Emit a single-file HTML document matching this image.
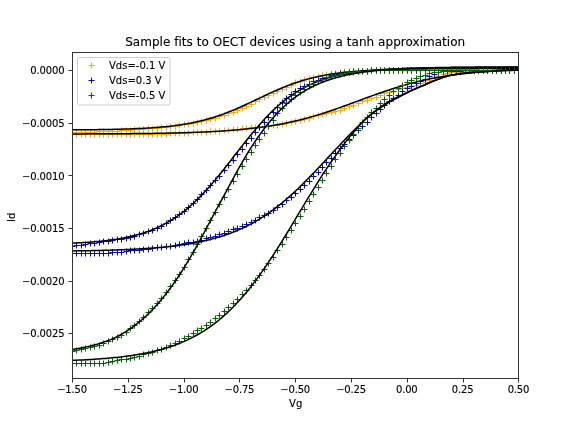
<!DOCTYPE html>
<html><head><meta charset="utf-8"><title>Sample fits to OECT devices</title>
<style>html,body{margin:0;padding:0;background:#fff}svg{display:block}text{font-family:'DejaVu Sans','Liberation Sans',sans-serif;fill:#000;stroke:#000;stroke-width:0.12px}</style></head><body>
<svg width="576" height="432" viewBox="0 0 576 432">
<rect width="576" height="432" fill="#fff"/>
<clipPath id="c"><rect x="72" y="51.84" width="446.4" height="326.16"/></clipPath>
<g clip-path="url(#c)" fill="none">
<path d="M69.5 132.5h6m-3-3v6M73.5 132.5h6m-3-3v6M78.5 132.5h6m-3-3v6M82.5 132.5h6m-3-3v6M87.5 132.5h6m-3-3v6M91.5 132.5h6m-3-3v6M96.5 131.5h6m-3-3v6M100.5 131.5h6m-3-3v6M105.5 131.5h6m-3-3v6M109.5 131.5h6m-3-3v6M114.5 131.5h6m-3-3v6M118.5 130.5h6m-3-3v6M123.5 130.5h6m-3-3v6M127.5 130.5h6m-3-3v6M131.5 129.5h6m-3-3v6M136.5 129.5h6m-3-3v6M140.5 129.5h6m-3-3v6M145.5 128.5h6m-3-3v6M149.5 128.5h6m-3-3v6M154.5 128.5h6m-3-3v6M158.5 127.5h6m-3-3v6M163.5 127.5h6m-3-3v6M167.5 126.5h6m-3-3v6M172.5 126.5h6m-3-3v6M176.5 125.5h6m-3-3v6M181.5 124.5h6m-3-3v6M185.5 124.5h6m-3-3v6M190.5 123.5h6m-3-3v6M194.5 122.5h6m-3-3v6M198.5 121.5h6m-3-3v6M203.5 120.5h6m-3-3v6M207.5 119.5h6m-3-3v6M212.5 118.5h6m-3-3v6M216.5 116.5h6m-3-3v6M221.5 115.5h6m-3-3v6M225.5 113.5h6m-3-3v6M230.5 112.5h6m-3-3v6M234.5 110.5h6m-3-3v6M239.5 108.5h6m-3-3v6M243.5 106.5h6m-3-3v6M248.5 104.5h6m-3-3v6M252.5 101.5h6m-3-3v6M256.5 99.5h6m-3-3v6M261.5 97.5h6m-3-3v6M265.5 95.5h6m-3-3v6M270.5 93.5h6m-3-3v6M274.5 91.5h6m-3-3v6M279.5 89.5h6m-3-3v6M283.5 87.5h6m-3-3v6M288.5 85.5h6m-3-3v6M292.5 82.5h6m-3-3v6M297.5 81.5h6m-3-3v6M301.5 79.5h6m-3-3v6M306.5 78.5h6m-3-3v6M310.5 77.5h6m-3-3v6M315.5 76.5h6m-3-3v6M319.5 75.5h6m-3-3v6M323.5 74.5h6m-3-3v6M328.5 73.5h6m-3-3v6M332.5 73.5h6m-3-3v6M337.5 72.5h6m-3-3v6M341.5 71.5h6m-3-3v6M346.5 71.5h6m-3-3v6M350.5 71.5h6m-3-3v6M355.5 71.5h6m-3-3v6M359.5 71.5h6m-3-3v6M364.5 71.5h6m-3-3v6M368.5 70.5h6m-3-3v6M373.5 70.5h6m-3-3v6M377.5 70.5h6m-3-3v6M381.5 70.5h6m-3-3v6M386.5 70.5h6m-3-3v6M390.5 70.5h6m-3-3v6M395.5 70.5h6m-3-3v6M399.5 70.5h6m-3-3v6M404.5 70.5h6m-3-3v6M408.5 70.5h6m-3-3v6M413.5 70.5h6m-3-3v6M417.5 70.5h6m-3-3v6M422.5 70.5h6m-3-3v6M426.5 70.5h6m-3-3v6M431.5 70.5h6m-3-3v6M435.5 70.5h6m-3-3v6M440.5 70.5h6m-3-3v6M444.5 70.5h6m-3-3v6M448.5 70.5h6m-3-3v6M453.5 70.5h6m-3-3v6M457.5 70.5h6m-3-3v6M462.5 70.5h6m-3-3v6M466.5 70.5h6m-3-3v6M471.5 70.5h6m-3-3v6M475.5 70.5h6m-3-3v6M480.5 70.5h6m-3-3v6M484.5 70.5h6m-3-3v6M489.5 70.5h6m-3-3v6M493.5 70.5h6m-3-3v6M498.5 70.5h6m-3-3v6M502.5 70.5h6m-3-3v6M506.5 70.5h6m-3-3v6M511.5 70.5h6m-3-3v6M515.5 70.5h6m-3-3v6" stroke="#ffa500" stroke-width="1"/>
<path d="M72 129.86L74.23 129.85L76.46 129.83L78.7 129.82L80.93 129.8L83.16 129.78L85.39 129.76L87.62 129.74L89.86 129.72L92.09 129.69L94.32 129.67L96.55 129.64L98.78 129.61L101.02 129.58L103.25 129.54L105.48 129.51L107.71 129.47L109.94 129.42L112.18 129.38L114.41 129.33L116.64 129.28L118.87 129.22L121.1 129.16L123.34 129.1L125.57 129.03L127.8 128.96L130.03 128.88L132.26 128.8L134.5 128.71L136.73 128.62L138.96 128.52L141.19 128.41L143.42 128.3L145.66 128.17L147.89 128.04L150.12 127.9L152.35 127.75L154.58 127.6L156.82 127.43L159.05 127.25L161.28 127.06L163.51 126.85L165.74 126.63L167.98 126.4L170.21 126.16L172.44 125.9L174.67 125.62L176.9 125.33L179.14 125.02L181.37 124.69L183.6 124.34L185.83 123.97L188.06 123.58L190.3 123.16L192.53 122.73L194.76 122.27L196.99 121.79L199.22 121.28L201.46 120.75L203.69 120.19L205.92 119.6L208.15 118.98L210.38 118.34L212.62 117.67L214.85 116.97L217.08 116.24L219.31 115.49L221.54 114.71L223.78 113.89L226.01 113.06L228.24 112.19L230.47 111.3L232.7 110.39L234.94 109.45L237.17 108.49L239.4 107.51L241.63 106.52L243.86 105.5L246.1 104.48L248.33 103.44L250.56 102.39L252.79 101.33L255.02 100.27L257.26 99.2L259.49 98.14L261.72 97.08L263.95 96.03L266.18 94.98L268.42 93.94L270.65 92.92L272.88 91.91L275.11 90.91L277.34 89.94L279.58 88.98L281.81 88.05L284.04 87.14L286.27 86.26L288.5 85.4L290.74 84.56L292.97 83.76L295.2 82.98L297.43 82.23L299.66 81.51L301.9 80.82L304.13 80.15L306.36 79.51L308.59 78.9L310.82 78.32L313.06 77.77L315.29 77.24L317.52 76.74L319.75 76.26L321.98 75.8L324.22 75.37L326.45 74.97L328.68 74.58L330.91 74.21L333.14 73.87L335.38 73.54L337.61 73.23L339.84 72.94L342.07 72.67L344.3 72.41L346.54 72.17L348.77 71.94L351 71.73L353.23 71.53L355.46 71.34L357.7 71.16L359.93 70.99L362.16 70.84L364.39 70.69L366.62 70.55L368.86 70.42L371.09 70.3L373.32 70.19L375.55 70.08L377.78 69.98L380.02 69.89L382.25 69.8L384.48 69.72L386.71 69.65L388.94 69.57L391.18 69.51L393.41 69.45L395.64 69.39L397.87 69.33L400.1 69.28L402.34 69.23L404.57 69.19L406.8 69.15L409.03 69.11L411.26 69.07L413.5 69.04L415.73 69.01L417.96 68.98L420.19 68.95L422.42 68.92L424.66 68.9L426.89 68.88L429.12 68.86L431.35 68.84L433.58 68.82L435.82 68.8L438.05 68.79L440.28 68.77L442.51 68.76L444.74 68.74L446.98 68.73L449.21 68.72L451.44 68.71L453.67 68.7L455.9 68.69L458.14 68.68L460.37 68.67L462.6 68.67L464.83 68.66L467.06 68.65L469.3 68.65L471.53 68.64L473.76 68.64L475.99 68.63L478.22 68.63L480.46 68.62L482.69 68.62L484.92 68.61L487.15 68.61L489.38 68.61L491.62 68.6L493.85 68.6L496.08 68.6L498.31 68.6L500.54 68.59L502.78 68.59L505.01 68.59L507.24 68.59L509.47 68.59L511.7 68.58L513.94 68.58L516.17 68.58L518.4 68.58" stroke="#000" stroke-width="1.5" stroke-linejoin="round" stroke-linecap="square"/>
<path d="M69.5 134.5h6m-3-3v6M73.5 134.5h6m-3-3v6M78.5 134.5h6m-3-3v6M82.5 134.5h6m-3-3v6M87.5 134.5h6m-3-3v6M91.5 134.5h6m-3-3v6M96.5 134.5h6m-3-3v6M100.5 134.5h6m-3-3v6M105.5 134.5h6m-3-3v6M109.5 134.5h6m-3-3v6M114.5 134.5h6m-3-3v6M118.5 134.5h6m-3-3v6M123.5 134.5h6m-3-3v6M127.5 134.5h6m-3-3v6M131.5 134.5h6m-3-3v6M136.5 134.5h6m-3-3v6M140.5 134.5h6m-3-3v6M145.5 134.5h6m-3-3v6M149.5 134.5h6m-3-3v6M154.5 134.5h6m-3-3v6M158.5 134.5h6m-3-3v6M163.5 134.5h6m-3-3v6M167.5 133.5h6m-3-3v6M172.5 133.5h6m-3-3v6M176.5 133.5h6m-3-3v6M181.5 133.5h6m-3-3v6M185.5 133.5h6m-3-3v6M190.5 132.5h6m-3-3v6M194.5 132.5h6m-3-3v6M198.5 132.5h6m-3-3v6M203.5 132.5h6m-3-3v6M207.5 131.5h6m-3-3v6M212.5 131.5h6m-3-3v6M216.5 131.5h6m-3-3v6M221.5 130.5h6m-3-3v6M225.5 130.5h6m-3-3v6M230.5 129.5h6m-3-3v6M234.5 129.5h6m-3-3v6M239.5 128.5h6m-3-3v6M243.5 128.5h6m-3-3v6M248.5 127.5h6m-3-3v6M252.5 127.5h6m-3-3v6M256.5 127.5h6m-3-3v6M261.5 126.5h6m-3-3v6M265.5 126.5h6m-3-3v6M270.5 125.5h6m-3-3v6M274.5 125.5h6m-3-3v6M279.5 124.5h6m-3-3v6M283.5 123.5h6m-3-3v6M288.5 122.5h6m-3-3v6M292.5 121.5h6m-3-3v6M297.5 120.5h6m-3-3v6M301.5 119.5h6m-3-3v6M306.5 118.5h6m-3-3v6M310.5 116.5h6m-3-3v6M315.5 115.5h6m-3-3v6M319.5 114.5h6m-3-3v6M323.5 113.5h6m-3-3v6M328.5 112.5h6m-3-3v6M332.5 111.5h6m-3-3v6M337.5 110.5h6m-3-3v6M341.5 108.5h6m-3-3v6M346.5 106.5h6m-3-3v6M350.5 105.5h6m-3-3v6M355.5 103.5h6m-3-3v6M359.5 101.5h6m-3-3v6M364.5 100.5h6m-3-3v6M368.5 98.5h6m-3-3v6M373.5 97.5h6m-3-3v6M377.5 95.5h6m-3-3v6M381.5 93.5h6m-3-3v6M386.5 92.5h6m-3-3v6M390.5 91.5h6m-3-3v6M395.5 89.5h6m-3-3v6M399.5 88.5h6m-3-3v6M404.5 87.5h6m-3-3v6M408.5 86.5h6m-3-3v6M413.5 85.5h6m-3-3v6M417.5 83.5h6m-3-3v6M422.5 82.5h6m-3-3v6M426.5 80.5h6m-3-3v6M431.5 78.5h6m-3-3v6M435.5 76.5h6m-3-3v6M440.5 74.5h6m-3-3v6M444.5 73.5h6m-3-3v6M448.5 72.5h6m-3-3v6M453.5 72.5h6m-3-3v6M457.5 72.5h6m-3-3v6M462.5 71.5h6m-3-3v6M466.5 71.5h6m-3-3v6M471.5 71.5h6m-3-3v6M475.5 71.5h6m-3-3v6M480.5 70.5h6m-3-3v6M484.5 70.5h6m-3-3v6M489.5 70.5h6m-3-3v6M493.5 70.5h6m-3-3v6M498.5 70.5h6m-3-3v6M502.5 70.5h6m-3-3v6M506.5 70.5h6m-3-3v6M511.5 70.5h6m-3-3v6M515.5 70.5h6m-3-3v6" stroke="#ffa500" stroke-width="1"/>
<path d="M72 133.92L74.23 133.91L76.46 133.91L78.7 133.9L80.93 133.9L83.16 133.89L85.39 133.88L87.62 133.87L89.86 133.87L92.09 133.86L94.32 133.85L96.55 133.84L98.78 133.83L101.02 133.82L103.25 133.81L105.48 133.8L107.71 133.79L109.94 133.78L112.18 133.76L114.41 133.75L116.64 133.73L118.87 133.72L121.1 133.7L123.34 133.69L125.57 133.67L127.8 133.65L130.03 133.63L132.26 133.61L134.5 133.59L136.73 133.57L138.96 133.54L141.19 133.52L143.42 133.49L145.66 133.47L147.89 133.44L150.12 133.41L152.35 133.38L154.58 133.34L156.82 133.31L159.05 133.27L161.28 133.23L163.51 133.19L165.74 133.15L167.98 133.11L170.21 133.06L172.44 133.01L174.67 132.96L176.9 132.91L179.14 132.85L181.37 132.79L183.6 132.73L185.83 132.66L188.06 132.59L190.3 132.52L192.53 132.45L194.76 132.37L196.99 132.29L199.22 132.2L201.46 132.11L203.69 132.01L205.92 131.91L208.15 131.81L210.38 131.7L212.62 131.58L214.85 131.46L217.08 131.33L219.31 131.2L221.54 131.06L223.78 130.92L226.01 130.77L228.24 130.61L230.47 130.44L232.7 130.27L234.94 130.09L237.17 129.9L239.4 129.7L241.63 129.49L243.86 129.28L246.1 129.05L248.33 128.82L250.56 128.57L252.79 128.32L255.02 128.05L257.26 127.77L259.49 127.49L261.72 127.18L263.95 126.87L266.18 126.55L268.42 126.21L270.65 125.86L272.88 125.49L275.11 125.11L277.34 124.72L279.58 124.31L281.81 123.89L284.04 123.45L286.27 123L288.5 122.53L290.74 122.05L292.97 121.55L295.2 121.04L297.43 120.51L299.66 119.96L301.9 119.4L304.13 118.82L306.36 118.23L308.59 117.62L310.82 117L313.06 116.36L315.29 115.7L317.52 115.03L319.75 114.35L321.98 113.65L324.22 112.94L326.45 112.21L328.68 111.47L330.91 110.72L333.14 109.96L335.38 109.19L337.61 108.41L339.84 107.62L342.07 106.83L344.3 106.02L346.54 105.21L348.77 104.39L351 103.57L353.23 102.75L355.46 101.92L357.7 101.1L359.93 100.27L362.16 99.44L364.39 98.62L366.62 97.8L368.86 96.98L371.09 96.17L373.32 95.36L375.55 94.56L377.78 93.77L380.02 92.98L382.25 92.21L384.48 91.44L386.71 90.69L388.94 89.95L391.18 89.22L393.41 88.5L395.64 87.79L397.87 87.1L400.1 86.43L402.34 85.77L404.57 85.12L406.8 84.49L409.03 83.88L411.26 83.28L413.5 82.69L415.73 82.12L417.96 81.57L420.19 81.03L422.42 80.51L424.66 80.01L426.89 79.52L429.12 79.05L431.35 78.59L433.58 78.15L435.82 77.72L438.05 77.31L440.28 76.91L442.51 76.52L444.74 76.15L446.98 75.8L449.21 75.45L451.44 75.12L453.67 74.8L455.9 74.5L458.14 74.2L460.37 73.92L462.6 73.65L464.83 73.39L467.06 73.14L469.3 72.9L471.53 72.67L473.76 72.45L475.99 72.24L478.22 72.04L480.46 71.85L482.69 71.67L484.92 71.49L487.15 71.32L489.38 71.16L491.62 71L493.85 70.86L496.08 70.72L498.31 70.58L500.54 70.45L502.78 70.33L505.01 70.21L507.24 70.1L509.47 69.99L511.7 69.89L513.94 69.79L516.17 69.7L518.4 69.61" stroke="#000" stroke-width="1.5" stroke-linejoin="round" stroke-linecap="square"/>
<path d="M69.5 246.5h6m-3-3v6M73.5 245.5h6m-3-3v6M78.5 245.5h6m-3-3v6M82.5 244.5h6m-3-3v6M87.5 243.5h6m-3-3v6M91.5 243.5h6m-3-3v6M96.5 242.5h6m-3-3v6M100.5 241.5h6m-3-3v6M105.5 241.5h6m-3-3v6M109.5 240.5h6m-3-3v6M114.5 239.5h6m-3-3v6M118.5 239.5h6m-3-3v6M123.5 238.5h6m-3-3v6M127.5 237.5h6m-3-3v6M131.5 236.5h6m-3-3v6M136.5 234.5h6m-3-3v6M140.5 233.5h6m-3-3v6M145.5 231.5h6m-3-3v6M149.5 230.5h6m-3-3v6M154.5 228.5h6m-3-3v6M158.5 226.5h6m-3-3v6M163.5 223.5h6m-3-3v6M167.5 220.5h6m-3-3v6M172.5 217.5h6m-3-3v6M176.5 214.5h6m-3-3v6M181.5 211.5h6m-3-3v6M185.5 207.5h6m-3-3v6M190.5 203.5h6m-3-3v6M194.5 199.5h6m-3-3v6M198.5 194.5h6m-3-3v6M203.5 190.5h6m-3-3v6M207.5 185.5h6m-3-3v6M212.5 180.5h6m-3-3v6M216.5 176.5h6m-3-3v6M221.5 170.5h6m-3-3v6M225.5 165.5h6m-3-3v6M230.5 160.5h6m-3-3v6M234.5 154.5h6m-3-3v6M239.5 149.5h6m-3-3v6M243.5 143.5h6m-3-3v6M248.5 138.5h6m-3-3v6M252.5 132.5h6m-3-3v6M256.5 127.5h6m-3-3v6M261.5 122.5h6m-3-3v6M265.5 117.5h6m-3-3v6M270.5 112.5h6m-3-3v6M274.5 107.5h6m-3-3v6M279.5 102.5h6m-3-3v6M283.5 98.5h6m-3-3v6M288.5 94.5h6m-3-3v6M292.5 91.5h6m-3-3v6M297.5 88.5h6m-3-3v6M301.5 86.5h6m-3-3v6M306.5 84.5h6m-3-3v6M310.5 81.5h6m-3-3v6M315.5 80.5h6m-3-3v6M319.5 78.5h6m-3-3v6M323.5 77.5h6m-3-3v6M328.5 75.5h6m-3-3v6M332.5 74.5h6m-3-3v6M337.5 73.5h6m-3-3v6M341.5 73.5h6m-3-3v6M346.5 72.5h6m-3-3v6M350.5 71.5h6m-3-3v6M355.5 71.5h6m-3-3v6M359.5 71.5h6m-3-3v6M364.5 71.5h6m-3-3v6M368.5 70.5h6m-3-3v6M373.5 70.5h6m-3-3v6M377.5 70.5h6m-3-3v6M381.5 70.5h6m-3-3v6M386.5 70.5h6m-3-3v6M390.5 70.5h6m-3-3v6M395.5 70.5h6m-3-3v6M399.5 70.5h6m-3-3v6M404.5 70.5h6m-3-3v6M408.5 70.5h6m-3-3v6M413.5 70.5h6m-3-3v6M417.5 70.5h6m-3-3v6M422.5 70.5h6m-3-3v6M426.5 70.5h6m-3-3v6M431.5 70.5h6m-3-3v6M435.5 70.5h6m-3-3v6M440.5 70.5h6m-3-3v6M444.5 70.5h6m-3-3v6M448.5 70.5h6m-3-3v6M453.5 70.5h6m-3-3v6M457.5 70.5h6m-3-3v6M462.5 70.5h6m-3-3v6M466.5 70.5h6m-3-3v6M471.5 70.5h6m-3-3v6M475.5 70.5h6m-3-3v6M480.5 70.5h6m-3-3v6M484.5 70.5h6m-3-3v6M489.5 70.5h6m-3-3v6M493.5 70.5h6m-3-3v6M498.5 70.5h6m-3-3v6M502.5 70.5h6m-3-3v6M506.5 70.5h6m-3-3v6M511.5 70.5h6m-3-3v6M515.5 70.5h6m-3-3v6" stroke="#0000cd" stroke-width="1"/>
<path d="M72 243.21L74.23 243.1L76.46 242.99L78.7 242.87L80.93 242.75L83.16 242.61L85.39 242.47L87.62 242.31L89.86 242.15L92.09 241.97L94.32 241.79L96.55 241.59L98.78 241.38L101.02 241.16L103.25 240.92L105.48 240.67L107.71 240.4L109.94 240.11L112.18 239.81L114.41 239.48L116.64 239.14L118.87 238.78L121.1 238.39L123.34 237.98L125.57 237.54L127.8 237.08L130.03 236.59L132.26 236.07L134.5 235.52L136.73 234.93L138.96 234.3L141.19 233.64L143.42 232.94L145.66 232.2L147.89 231.42L150.12 230.59L152.35 229.72L154.58 228.8L156.82 227.82L159.05 226.8L161.28 225.72L163.51 224.59L165.74 223.39L167.98 222.14L170.21 220.83L172.44 219.45L174.67 218.01L176.9 216.5L179.14 214.93L181.37 213.29L183.6 211.57L185.83 209.79L188.06 207.94L190.3 206.01L192.53 204.02L194.76 201.95L196.99 199.82L199.22 197.62L201.46 195.35L203.69 193.01L205.92 190.6L208.15 188.14L210.38 185.61L212.62 183.03L214.85 180.39L217.08 177.71L219.31 174.98L221.54 172.21L223.78 169.41L226.01 166.58L228.24 163.72L230.47 160.85L232.7 157.97L234.94 155.08L237.17 152.2L239.4 149.32L241.63 146.46L243.86 143.61L246.1 140.79L248.33 138L250.56 135.25L252.79 132.54L255.02 129.87L257.26 127.25L259.49 124.69L261.72 122.19L263.95 119.75L266.18 117.37L268.42 115.06L270.65 112.82L272.88 110.64L275.11 108.54L277.34 106.51L279.58 104.55L281.81 102.67L284.04 100.86L286.27 99.12L288.5 97.45L290.74 95.85L292.97 94.32L295.2 92.86L297.43 91.46L299.66 90.13L301.9 88.86L304.13 87.66L306.36 86.51L308.59 85.42L310.82 84.38L313.06 83.4L315.29 82.47L317.52 81.59L319.75 80.75L321.98 79.96L324.22 79.22L326.45 78.51L328.68 77.85L330.91 77.22L333.14 76.62L335.38 76.06L337.61 75.53L339.84 75.04L342.07 74.57L344.3 74.13L346.54 73.71L348.77 73.32L351 72.95L353.23 72.6L355.46 72.28L357.7 71.97L359.93 71.69L362.16 71.41L364.39 71.16L366.62 70.92L368.86 70.7L371.09 70.49L373.32 70.29L375.55 70.1L377.78 69.93L380.02 69.77L382.25 69.61L384.48 69.47L386.71 69.33L388.94 69.21L391.18 69.09L393.41 68.98L395.64 68.87L397.87 68.77L400.1 68.68L402.34 68.6L404.57 68.51L406.8 68.44L409.03 68.37L411.26 68.3L413.5 68.24L415.73 68.18L417.96 68.13L420.19 68.07L422.42 68.03L424.66 67.98L426.89 67.94L429.12 67.9L431.35 67.86L433.58 67.83L435.82 67.79L438.05 67.76L440.28 67.73L442.51 67.71L444.74 67.68L446.98 67.66L449.21 67.64L451.44 67.62L453.67 67.6L455.9 67.58L458.14 67.56L460.37 67.55L462.6 67.53L464.83 67.52L467.06 67.5L469.3 67.49L471.53 67.48L473.76 67.47L475.99 67.46L478.22 67.45L480.46 67.44L482.69 67.43L484.92 67.42L487.15 67.42L489.38 67.41L491.62 67.4L493.85 67.4L496.08 67.39L498.31 67.39L500.54 67.38L502.78 67.38L505.01 67.37L507.24 67.37L509.47 67.37L511.7 67.36L513.94 67.36L516.17 67.36L518.4 67.35" stroke="#000" stroke-width="1.5" stroke-linejoin="round" stroke-linecap="square"/>
<path d="M69.5 253.5h6m-3-3v6M73.5 253.5h6m-3-3v6M78.5 253.5h6m-3-3v6M82.5 253.5h6m-3-3v6M87.5 253.5h6m-3-3v6M91.5 253.5h6m-3-3v6M96.5 253.5h6m-3-3v6M100.5 253.5h6m-3-3v6M105.5 253.5h6m-3-3v6M109.5 252.5h6m-3-3v6M114.5 252.5h6m-3-3v6M118.5 252.5h6m-3-3v6M123.5 251.5h6m-3-3v6M127.5 250.5h6m-3-3v6M131.5 250.5h6m-3-3v6M136.5 250.5h6m-3-3v6M140.5 249.5h6m-3-3v6M145.5 249.5h6m-3-3v6M149.5 248.5h6m-3-3v6M154.5 247.5h6m-3-3v6M158.5 247.5h6m-3-3v6M163.5 246.5h6m-3-3v6M167.5 246.5h6m-3-3v6M172.5 245.5h6m-3-3v6M176.5 244.5h6m-3-3v6M181.5 243.5h6m-3-3v6M185.5 242.5h6m-3-3v6M190.5 242.5h6m-3-3v6M194.5 241.5h6m-3-3v6M198.5 240.5h6m-3-3v6M203.5 238.5h6m-3-3v6M207.5 237.5h6m-3-3v6M212.5 236.5h6m-3-3v6M216.5 234.5h6m-3-3v6M221.5 233.5h6m-3-3v6M225.5 231.5h6m-3-3v6M230.5 229.5h6m-3-3v6M234.5 228.5h6m-3-3v6M239.5 226.5h6m-3-3v6M243.5 224.5h6m-3-3v6M248.5 222.5h6m-3-3v6M252.5 220.5h6m-3-3v6M256.5 217.5h6m-3-3v6M261.5 215.5h6m-3-3v6M265.5 213.5h6m-3-3v6M270.5 210.5h6m-3-3v6M274.5 207.5h6m-3-3v6M279.5 204.5h6m-3-3v6M283.5 200.5h6m-3-3v6M288.5 197.5h6m-3-3v6M292.5 193.5h6m-3-3v6M297.5 189.5h6m-3-3v6M301.5 185.5h6m-3-3v6M306.5 181.5h6m-3-3v6M310.5 176.5h6m-3-3v6M315.5 172.5h6m-3-3v6M319.5 167.5h6m-3-3v6M323.5 162.5h6m-3-3v6M328.5 158.5h6m-3-3v6M332.5 153.5h6m-3-3v6M337.5 148.5h6m-3-3v6M341.5 144.5h6m-3-3v6M346.5 139.5h6m-3-3v6M350.5 135.5h6m-3-3v6M355.5 130.5h6m-3-3v6M359.5 126.5h6m-3-3v6M364.5 122.5h6m-3-3v6M368.5 117.5h6m-3-3v6M373.5 113.5h6m-3-3v6M377.5 109.5h6m-3-3v6M381.5 105.5h6m-3-3v6M386.5 101.5h6m-3-3v6M390.5 98.5h6m-3-3v6M395.5 95.5h6m-3-3v6M399.5 91.5h6m-3-3v6M404.5 88.5h6m-3-3v6M408.5 86.5h6m-3-3v6M413.5 83.5h6m-3-3v6M417.5 81.5h6m-3-3v6M422.5 79.5h6m-3-3v6M426.5 76.5h6m-3-3v6M431.5 74.5h6m-3-3v6M435.5 72.5h6m-3-3v6M440.5 71.5h6m-3-3v6M444.5 71.5h6m-3-3v6M448.5 71.5h6m-3-3v6M453.5 71.5h6m-3-3v6M457.5 71.5h6m-3-3v6M462.5 70.5h6m-3-3v6M466.5 70.5h6m-3-3v6M471.5 70.5h6m-3-3v6M475.5 70.5h6m-3-3v6M480.5 70.5h6m-3-3v6M484.5 70.5h6m-3-3v6M489.5 70.5h6m-3-3v6M493.5 70.5h6m-3-3v6M498.5 70.5h6m-3-3v6M502.5 70.5h6m-3-3v6M506.5 70.5h6m-3-3v6M511.5 70.5h6m-3-3v6M515.5 70.5h6m-3-3v6" stroke="#0000cd" stroke-width="1"/>
<path d="M72 250.92L74.23 250.89L76.46 250.86L78.7 250.83L80.93 250.79L83.16 250.76L85.39 250.72L87.62 250.68L89.86 250.64L92.09 250.6L94.32 250.55L96.55 250.51L98.78 250.45L101.02 250.4L103.25 250.35L105.48 250.29L107.71 250.23L109.94 250.16L112.18 250.1L114.41 250.03L116.64 249.95L118.87 249.87L121.1 249.79L123.34 249.71L125.57 249.62L127.8 249.52L130.03 249.42L132.26 249.32L134.5 249.21L136.73 249.09L138.96 248.97L141.19 248.85L143.42 248.71L145.66 248.57L147.89 248.43L150.12 248.27L152.35 248.11L154.58 247.94L156.82 247.76L159.05 247.57L161.28 247.38L163.51 247.17L165.74 246.95L167.98 246.72L170.21 246.47L172.44 246.22L174.67 245.95L176.9 245.67L179.14 245.38L181.37 245.07L183.6 244.75L185.83 244.41L188.06 244.06L190.3 243.69L192.53 243.3L194.76 242.89L196.99 242.47L199.22 242.02L201.46 241.55L203.69 241.07L205.92 240.56L208.15 240.02L210.38 239.47L212.62 238.88L214.85 238.28L217.08 237.64L219.31 236.98L221.54 236.29L223.78 235.57L226.01 234.81L228.24 234.03L230.47 233.21L232.7 232.36L234.94 231.47L237.17 230.55L239.4 229.59L241.63 228.59L243.86 227.56L246.1 226.48L248.33 225.36L250.56 224.2L252.79 223L255.02 221.75L257.26 220.46L259.49 219.12L261.72 217.73L263.95 216.3L266.18 214.82L268.42 213.29L270.65 211.72L272.88 210.09L275.11 208.42L277.34 206.7L279.58 204.93L281.81 203.12L284.04 201.26L286.27 199.36L288.5 197.41L290.74 195.42L292.97 193.38L295.2 191.31L297.43 189.19L299.66 187.04L301.9 184.86L304.13 182.64L306.36 180.4L308.59 178.12L310.82 175.82L313.06 173.5L315.29 171.16L317.52 168.8L319.75 166.43L321.98 164.05L324.22 161.66L326.45 159.27L328.68 156.87L330.91 154.48L333.14 152.09L335.38 149.69L337.61 147.3L339.84 144.92L342.07 142.55L344.3 140.19L346.54 137.86L348.77 135.55L351 133.27L353.23 131L355.46 128.74L357.7 126.51L359.93 124.33L362.16 122.21L364.39 120.16L366.62 118.21L368.86 116.34L371.09 114.56L373.32 112.86L375.55 111.22L377.78 109.64L380.02 108.11L382.25 106.63L384.48 105.18L386.71 103.77L388.94 102.43L391.18 101.15L393.41 99.93L395.64 98.74L397.87 97.58L400.1 96.44L402.34 95.31L404.57 94.17L406.8 93.04L409.03 91.93L411.26 90.86L413.5 89.82L415.73 88.81L417.96 87.83L420.19 86.89L422.42 85.94L424.66 84.95L426.89 83.96L429.12 82.97L431.35 82.01L433.58 81.09L435.82 80.22L438.05 79.35L440.28 78.49L442.51 77.66L444.74 76.89L446.98 76.19L449.21 75.6L451.44 75.11L453.67 74.67L455.9 74.27L458.14 73.89L460.37 73.55L462.6 73.22L464.83 72.92L467.06 72.63L469.3 72.37L471.53 72.13L473.76 71.92L475.99 71.73L478.22 71.55L480.46 71.38L482.69 71.22L484.92 71.06L487.15 70.91L489.38 70.77L491.62 70.64L493.85 70.51L496.08 70.39L498.31 70.28L500.54 70.18L502.78 70.09L505.01 70L507.24 69.91L509.47 69.83L511.7 69.76L513.94 69.69L516.17 69.62L518.4 69.56" stroke="#000" stroke-width="1.5" stroke-linejoin="round" stroke-linecap="square"/>
<path d="M69.5 351.5h6m-3-3v6M73.5 350.5h6m-3-3v6M78.5 349.5h6m-3-3v6M82.5 348.5h6m-3-3v6M87.5 347.5h6m-3-3v6M91.5 346.5h6m-3-3v6M96.5 345.5h6m-3-3v6M100.5 343.5h6m-3-3v6M105.5 341.5h6m-3-3v6M109.5 339.5h6m-3-3v6M114.5 337.5h6m-3-3v6M118.5 335.5h6m-3-3v6M123.5 332.5h6m-3-3v6M127.5 328.5h6m-3-3v6M131.5 325.5h6m-3-3v6M136.5 321.5h6m-3-3v6M140.5 317.5h6m-3-3v6M145.5 312.5h6m-3-3v6M149.5 308.5h6m-3-3v6M154.5 303.5h6m-3-3v6M158.5 298.5h6m-3-3v6M163.5 292.5h6m-3-3v6M167.5 286.5h6m-3-3v6M172.5 280.5h6m-3-3v6M176.5 274.5h6m-3-3v6M181.5 267.5h6m-3-3v6M185.5 259.5h6m-3-3v6M190.5 252.5h6m-3-3v6M194.5 244.5h6m-3-3v6M198.5 236.5h6m-3-3v6M203.5 228.5h6m-3-3v6M207.5 220.5h6m-3-3v6M212.5 212.5h6m-3-3v6M216.5 204.5h6m-3-3v6M221.5 197.5h6m-3-3v6M225.5 189.5h6m-3-3v6M230.5 181.5h6m-3-3v6M234.5 174.5h6m-3-3v6M239.5 166.5h6m-3-3v6M243.5 159.5h6m-3-3v6M248.5 152.5h6m-3-3v6M252.5 145.5h6m-3-3v6M256.5 139.5h6m-3-3v6M261.5 133.5h6m-3-3v6M265.5 126.5h6m-3-3v6M270.5 120.5h6m-3-3v6M274.5 113.5h6m-3-3v6M279.5 108.5h6m-3-3v6M283.5 103.5h6m-3-3v6M288.5 99.5h6m-3-3v6M292.5 95.5h6m-3-3v6M297.5 92.5h6m-3-3v6M301.5 89.5h6m-3-3v6M306.5 86.5h6m-3-3v6M310.5 84.5h6m-3-3v6M315.5 81.5h6m-3-3v6M319.5 79.5h6m-3-3v6M323.5 77.5h6m-3-3v6M328.5 76.5h6m-3-3v6M332.5 75.5h6m-3-3v6M337.5 74.5h6m-3-3v6M341.5 73.5h6m-3-3v6M346.5 72.5h6m-3-3v6M350.5 72.5h6m-3-3v6M355.5 71.5h6m-3-3v6M359.5 71.5h6m-3-3v6M364.5 71.5h6m-3-3v6M368.5 70.5h6m-3-3v6M373.5 70.5h6m-3-3v6M377.5 70.5h6m-3-3v6M381.5 70.5h6m-3-3v6M386.5 70.5h6m-3-3v6M390.5 70.5h6m-3-3v6M395.5 70.5h6m-3-3v6M399.5 70.5h6m-3-3v6M404.5 70.5h6m-3-3v6M408.5 70.5h6m-3-3v6M413.5 70.5h6m-3-3v6M417.5 70.5h6m-3-3v6M422.5 70.5h6m-3-3v6M426.5 70.5h6m-3-3v6M431.5 70.5h6m-3-3v6M435.5 70.5h6m-3-3v6M440.5 70.5h6m-3-3v6M444.5 70.5h6m-3-3v6M448.5 70.5h6m-3-3v6M453.5 70.5h6m-3-3v6M457.5 70.5h6m-3-3v6M462.5 70.5h6m-3-3v6M466.5 70.5h6m-3-3v6M471.5 70.5h6m-3-3v6M475.5 70.5h6m-3-3v6M480.5 70.5h6m-3-3v6M484.5 70.5h6m-3-3v6M489.5 70.5h6m-3-3v6M493.5 70.5h6m-3-3v6M498.5 70.5h6m-3-3v6M502.5 70.5h6m-3-3v6M506.5 70.5h6m-3-3v6M511.5 70.5h6m-3-3v6M515.5 70.5h6m-3-3v6" stroke="#006400" stroke-width="1"/>
<path d="M72 349.56L74.23 349.21L76.46 348.84L78.7 348.45L80.93 348.04L83.16 347.6L85.39 347.13L87.62 346.64L89.86 346.12L92.09 345.57L94.32 344.99L96.55 344.38L98.78 343.73L101.02 343.04L103.25 342.31L105.48 341.54L107.71 340.73L109.94 339.88L112.18 338.96L114.41 337.96L116.64 336.88L118.87 335.73L121.1 334.5L123.34 333.2L125.57 331.82L127.8 330.38L130.03 328.86L132.26 327.28L134.5 325.63L136.73 323.91L138.96 322.13L141.19 320.28L143.42 318.35L145.66 316.34L147.89 314.23L150.12 312.03L152.35 309.74L154.58 307.36L156.82 304.89L159.05 302.33L161.28 299.69L163.51 296.96L165.74 294.14L167.98 291.25L170.21 288.27L172.44 285.2L174.67 282.04L176.9 278.78L179.14 275.43L181.37 271.98L183.6 268.45L185.83 264.83L188.06 261.12L190.3 257.33L192.53 253.47L194.76 249.55L196.99 245.57L199.22 241.54L201.46 237.46L203.69 233.34L205.92 229.18L208.15 225L210.38 220.79L212.62 216.56L214.85 212.38L217.08 208.25L219.31 204.14L221.54 200.05L223.78 195.96L226.01 191.86L228.24 187.71L230.47 183.53L232.7 179.35L234.94 175.24L237.17 171.18L239.4 167.19L241.63 163.28L243.86 159.44L246.1 155.68L248.33 152.01L250.56 148.43L252.79 144.94L255.02 141.55L257.26 138.26L259.49 135.06L261.72 131.97L263.95 128.97L266.18 126.08L268.42 123.28L270.65 120.59L272.88 118L275.11 115.51L277.34 113.11L279.58 110.82L281.81 108.61L284.04 106.5L286.27 104.48L288.5 102.55L290.74 100.7L292.97 98.94L295.2 97.26L297.43 95.65L299.66 94.12L301.9 92.67L304.13 91.28L306.36 89.97L308.59 88.72L310.82 87.53L313.06 86.4L315.29 85.33L317.52 84.31L319.75 83.35L321.98 82.43L324.22 81.57L326.45 80.75L328.68 79.97L330.91 79.23L333.14 78.54L335.38 77.88L337.61 77.26L339.84 76.67L342.07 76.11L344.3 75.59L346.54 75.09L348.77 74.62L351 74.18L353.23 73.76L355.46 73.37L357.7 72.99L359.93 72.64L362.16 72.31L364.39 72L366.62 71.7L368.86 71.42L371.09 71.16L373.32 70.91L375.55 70.68L377.78 70.46L380.02 70.25L382.25 70.05L384.48 69.87L386.71 69.69L388.94 69.53L391.18 69.38L393.41 69.23L395.64 69.09L397.87 68.96L400.1 68.84L402.34 68.73L404.57 68.62L406.8 68.52L409.03 68.42L411.26 68.33L413.5 68.24L415.73 68.16L417.96 68.09L420.19 68.02L422.42 67.95L424.66 67.89L426.89 67.83L429.12 67.77L431.35 67.72L433.58 67.67L435.82 67.62L438.05 67.58L440.28 67.54L442.51 67.5L444.74 67.46L446.98 67.43L449.21 67.39L451.44 67.36L453.67 67.33L455.9 67.31L458.14 67.28L460.37 67.26L462.6 67.24L464.83 67.21L467.06 67.19L469.3 67.17L471.53 67.16L473.76 67.14L475.99 67.12L478.22 67.11L480.46 67.1L482.69 67.08L484.92 67.07L487.15 67.06L489.38 67.05L491.62 67.04L493.85 67.03L496.08 67.02L498.31 67.01L500.54 67L502.78 66.99L505.01 66.99L507.24 66.98L509.47 66.97L511.7 66.97L513.94 66.96L516.17 66.96L518.4 66.95" stroke="#000" stroke-width="1.5" stroke-linejoin="round" stroke-linecap="square"/>
<path d="M69.5 363.5h6m-3-3v6M73.5 363.5h6m-3-3v6M78.5 363.5h6m-3-3v6M82.5 363.5h6m-3-3v6M87.5 363.5h6m-3-3v6M91.5 363.5h6m-3-3v6M96.5 363.5h6m-3-3v6M100.5 363.5h6m-3-3v6M105.5 362.5h6m-3-3v6M109.5 361.5h6m-3-3v6M114.5 360.5h6m-3-3v6M118.5 359.5h6m-3-3v6M123.5 359.5h6m-3-3v6M127.5 358.5h6m-3-3v6M131.5 357.5h6m-3-3v6M136.5 356.5h6m-3-3v6M140.5 354.5h6m-3-3v6M145.5 353.5h6m-3-3v6M149.5 352.5h6m-3-3v6M154.5 350.5h6m-3-3v6M158.5 349.5h6m-3-3v6M163.5 347.5h6m-3-3v6M167.5 345.5h6m-3-3v6M172.5 343.5h6m-3-3v6M176.5 341.5h6m-3-3v6M181.5 338.5h6m-3-3v6M185.5 336.5h6m-3-3v6M190.5 333.5h6m-3-3v6M194.5 330.5h6m-3-3v6M198.5 328.5h6m-3-3v6M203.5 325.5h6m-3-3v6M207.5 322.5h6m-3-3v6M212.5 318.5h6m-3-3v6M216.5 315.5h6m-3-3v6M221.5 311.5h6m-3-3v6M225.5 307.5h6m-3-3v6M230.5 303.5h6m-3-3v6M234.5 299.5h6m-3-3v6M239.5 294.5h6m-3-3v6M243.5 290.5h6m-3-3v6M248.5 285.5h6m-3-3v6M252.5 280.5h6m-3-3v6M256.5 275.5h6m-3-3v6M261.5 269.5h6m-3-3v6M265.5 263.5h6m-3-3v6M270.5 257.5h6m-3-3v6M274.5 250.5h6m-3-3v6M279.5 244.5h6m-3-3v6M283.5 237.5h6m-3-3v6M288.5 230.5h6m-3-3v6M292.5 223.5h6m-3-3v6M297.5 216.5h6m-3-3v6M301.5 209.5h6m-3-3v6M306.5 201.5h6m-3-3v6M310.5 194.5h6m-3-3v6M315.5 187.5h6m-3-3v6M319.5 180.5h6m-3-3v6M323.5 173.5h6m-3-3v6M328.5 166.5h6m-3-3v6M332.5 159.5h6m-3-3v6M337.5 153.5h6m-3-3v6M341.5 146.5h6m-3-3v6M346.5 140.5h6m-3-3v6M350.5 134.5h6m-3-3v6M355.5 128.5h6m-3-3v6M359.5 122.5h6m-3-3v6M364.5 117.5h6m-3-3v6M368.5 112.5h6m-3-3v6M373.5 108.5h6m-3-3v6M377.5 103.5h6m-3-3v6M381.5 99.5h6m-3-3v6M386.5 95.5h6m-3-3v6M390.5 91.5h6m-3-3v6M395.5 88.5h6m-3-3v6M399.5 85.5h6m-3-3v6M404.5 82.5h6m-3-3v6M408.5 80.5h6m-3-3v6M413.5 78.5h6m-3-3v6M417.5 76.5h6m-3-3v6M422.5 75.5h6m-3-3v6M426.5 73.5h6m-3-3v6M431.5 72.5h6m-3-3v6M435.5 72.5h6m-3-3v6M440.5 71.5h6m-3-3v6M444.5 71.5h6m-3-3v6M448.5 70.5h6m-3-3v6M453.5 70.5h6m-3-3v6M457.5 70.5h6m-3-3v6M462.5 70.5h6m-3-3v6M466.5 70.5h6m-3-3v6M471.5 70.5h6m-3-3v6M475.5 70.5h6m-3-3v6M480.5 70.5h6m-3-3v6M484.5 70.5h6m-3-3v6M489.5 70.5h6m-3-3v6M493.5 70.5h6m-3-3v6M498.5 70.5h6m-3-3v6M502.5 70.5h6m-3-3v6M506.5 70.5h6m-3-3v6M511.5 70.5h6m-3-3v6M515.5 70.5h6m-3-3v6" stroke="#006400" stroke-width="1"/>
<path d="M72 360.39L74.23 360.3L76.46 360.2L78.7 360.1L80.93 360L83.16 359.89L85.39 359.77L87.62 359.65L89.86 359.52L92.09 359.39L94.32 359.25L96.55 359.1L98.78 358.95L101.02 358.78L103.25 358.61L105.48 358.43L107.71 358.24L109.94 358.04L112.18 357.83L114.41 357.61L116.64 357.38L118.87 357.14L121.1 356.89L123.34 356.62L125.57 356.34L127.8 356.05L130.03 355.74L132.26 355.41L134.5 355.07L136.73 354.71L138.96 354.34L141.19 353.95L143.42 353.53L145.66 353.1L147.89 352.65L150.12 352.17L152.35 351.67L154.58 351.15L156.82 350.6L159.05 350.03L161.28 349.43L163.51 348.8L165.74 348.14L167.98 347.45L170.21 346.72L172.44 345.97L174.67 345.18L176.9 344.35L179.14 343.48L181.37 342.58L183.6 341.64L185.83 340.65L188.06 339.62L190.3 338.54L192.53 337.42L194.76 336.25L196.99 335.03L199.22 333.76L201.46 332.43L203.69 331.06L205.92 329.62L208.15 328.13L210.38 326.57L212.62 324.96L214.85 323.29L217.08 321.55L219.31 319.74L221.54 317.87L223.78 315.93L226.01 313.93L228.24 311.85L230.47 309.71L232.7 307.49L234.94 305.2L237.17 302.84L239.4 300.41L241.63 297.9L243.86 295.32L246.1 292.67L248.33 289.95L250.56 287.15L252.79 284.29L255.02 281.36L257.26 278.36L259.49 275.29L261.72 272.16L263.95 268.96L266.18 265.71L268.42 262.4L270.65 259.03L272.88 255.62L275.11 252.15L277.34 248.64L279.58 245.09L281.81 241.51L284.04 237.89L286.27 234.24L288.5 230.56L290.74 226.87L292.97 223.16L295.2 219.45L297.43 215.72L299.66 212L301.9 208.28L304.13 204.56L306.36 200.86L308.59 197.18L310.82 193.52L313.06 189.89L315.29 186.29L317.52 182.73L319.75 179.2L321.98 175.72L324.22 172.28L326.45 168.89L328.68 165.56L330.91 162.28L333.14 159.06L335.38 155.88L337.61 152.76L339.84 149.7L342.07 146.69L344.3 143.76L346.54 140.89L348.77 138.09L351 135.36L353.23 132.68L355.46 130.05L357.7 127.48L359.93 125L362.16 122.61L364.39 120.33L366.62 118.16L368.86 116.12L371.09 114.18L373.32 112.33L375.55 110.58L377.78 108.91L380.02 107.31L382.25 105.77L384.48 104.28L386.71 102.86L388.94 101.54L391.18 100.29L393.41 99.12L395.64 97.99L397.87 96.89L400.1 95.82L402.34 94.74L404.57 93.65L406.8 92.55L409.03 91.48L411.26 90.44L413.5 89.44L415.73 88.46L417.96 87.51L420.19 86.6L422.42 85.67L424.66 84.7L426.89 83.73L429.12 82.76L431.35 81.81L433.58 80.92L435.82 80.08L438.05 79.26L440.28 78.45L442.51 77.66L444.74 76.94L446.98 76.29L449.21 75.74L451.44 75.3L453.67 74.89L455.9 74.53L458.14 74.19L460.37 73.88L462.6 73.59L464.83 73.32L467.06 73.06L469.3 72.84L471.53 72.65L473.76 72.49L475.99 72.34L478.22 72.21L480.46 72.08L482.69 71.94L484.92 71.79L487.15 71.64L489.38 71.5L491.62 71.36L493.85 71.24L496.08 71.11L498.31 71L500.54 70.89L502.78 70.78L505.01 70.68L507.24 70.58L509.47 70.48L511.7 70.38L513.94 70.29L516.17 70.19L518.4 70.09" stroke="#000" stroke-width="1.5" stroke-linejoin="round" stroke-linecap="square"/>
</g>
<rect x="72.5" y="52.5" width="446" height="326" fill="none" stroke="#333" stroke-width="1"/>
<text x="72" y="392.6" font-size="10" letter-spacing="-0.2" text-anchor="middle">−1.50</text>
<text x="127.8" y="392.6" font-size="10" letter-spacing="-0.2" text-anchor="middle">−1.25</text>
<text x="183.6" y="392.6" font-size="10" letter-spacing="-0.2" text-anchor="middle">−1.00</text>
<text x="239.4" y="392.6" font-size="10" letter-spacing="-0.2" text-anchor="middle">−0.75</text>
<text x="295.2" y="392.6" font-size="10" letter-spacing="-0.2" text-anchor="middle">−0.50</text>
<text x="351" y="392.6" font-size="10" letter-spacing="-0.2" text-anchor="middle">−0.25</text>
<text x="406.8" y="392.6" font-size="10" letter-spacing="-0.2" text-anchor="middle">0.00</text>
<text x="462.6" y="392.6" font-size="10" letter-spacing="-0.2" text-anchor="middle">0.25</text>
<text x="518.4" y="392.6" font-size="10" letter-spacing="-0.2" text-anchor="middle">0.50</text>
<text x="64.6" y="74.4" font-size="10" letter-spacing="-0.1" text-anchor="end">0.0000</text>
<text x="64.6" y="127" font-size="10" letter-spacing="-0.1" text-anchor="end">−0.0005</text>
<text x="64.6" y="179.6" font-size="10" letter-spacing="-0.1" text-anchor="end">−0.0010</text>
<text x="64.6" y="232.2" font-size="10" letter-spacing="-0.1" text-anchor="end">−0.0015</text>
<text x="64.6" y="284.8" font-size="10" letter-spacing="-0.1" text-anchor="end">−0.0020</text>
<text x="64.6" y="337.4" font-size="10" letter-spacing="-0.1" text-anchor="end">−0.0025</text>
<path d="M72.5 379v3.5M128.5 379v3.5M184.5 379v3.5M239.5 379v3.5M295.5 379v3.5M351.5 379v3.5M407.5 379v3.5M463.5 379v3.5M518.5 379v3.5M72 70.5h-3.5M72 123.5h-3.5M72 175.5h-3.5M72 228.5h-3.5M72 281.5h-3.5M72 333.5h-3.5" stroke="#333" stroke-width="1" fill="none"/>
<text x="295.7" y="407.1" font-size="10" text-anchor="middle">Vg</text>
<text x="14.7" y="217.3" font-size="10" text-anchor="middle" transform="rotate(-90 14.7 217.3)">Id</text>
<text x="295.2" y="45.84" font-size="12" letter-spacing="0.035" text-anchor="middle">Sample fits to OECT devices using a tanh approximation</text>
<rect x="77.5" y="57.5" width="92.5" height="47.5" rx="2" ry="2" fill="#fff" fill-opacity="0.8" stroke="#ccc" stroke-width="1"/>
<path d="M88.5 65.5h6m-3-3v6" stroke="#ffa500" stroke-width="1" fill="none"/>
<text x="109" y="69.3" font-size="10">Vds=-0.1 V</text>
<path d="M88.5 80.5h6m-3-3v6" stroke="#0000cd" stroke-width="1" fill="none"/>
<text x="109" y="83.98" font-size="10">Vds=0.3 V</text>
<path d="M88.5 95.5h6m-3-3v6" stroke="#006400" stroke-width="1" fill="none"/>
<text x="109" y="98.66" font-size="10">Vds=-0.5 V</text>
</svg>
</body></html>
